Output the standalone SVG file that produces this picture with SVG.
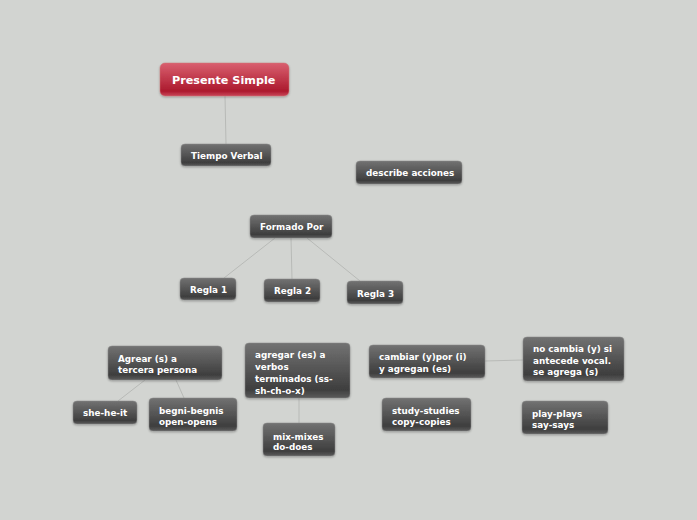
<svg xmlns="http://www.w3.org/2000/svg" width="697" height="520" viewBox="0 0 697 520">
<defs>
<linearGradient id="gd" x1="0" y1="0" x2="0" y2="1">
<stop offset="0" stop-color="#727272"/>
<stop offset="0.85" stop-color="#3e3e3e"/>
<stop offset="1" stop-color="#5c5c5c"/>
</linearGradient>
<linearGradient id="gr" x1="0" y1="0" x2="0" y2="1">
<stop offset="0" stop-color="#d9606f"/>
<stop offset="0.85" stop-color="#ac1a2e"/>
<stop offset="1" stop-color="#c9475a"/>
</linearGradient>
<filter id="sh" x="-10%" y="-10%" width="120%" height="130%">
<feDropShadow dx="0" dy="1" stdDeviation="0.8" flood-color="#000" flood-opacity="0.3"/>
</filter>
</defs>
<style>
.n{fill:url(#gd);stroke:#8a8a8a;stroke-width:0.5;filter:url(#sh)}
.r{fill:url(#gr);stroke:#c77;stroke-width:0.5;filter:url(#sh)}
text{font-family:"DejaVu Sans",Verdana,sans-serif;font-weight:bold;font-size:8.8px;fill:#fff}
.t{font-size:11.2px}
.c{stroke:#b8bab7;stroke-width:1;fill:none}
</style>
<rect width="697" height="520" fill="#d2d4d1"/>
<g id="connectors">
<line class="c" x1="225" y1="96" x2="226" y2="144"/>
<line class="c" x1="275" y1="238" x2="224" y2="278"/>
<line class="c" x1="291" y1="238" x2="292" y2="279"/>
<line class="c" x1="307" y1="238" x2="360" y2="281"/>
<line class="c" x1="145" y1="380" x2="118" y2="401"/>
<line class="c" x1="176" y1="380" x2="184" y2="398"/>
<line class="c" x1="299" y1="398" x2="299" y2="423"/>
<line class="c" x1="485" y1="361" x2="523" y2="360"/>
</g>
<g id="presente-simple"><rect class="r" x="160" y="63" width="129" height="33" rx="5"/><text class="t" x="172" y="84">Presente Simple</text></g>
<g id="tiempo-verbal"><rect class="n" x="181" y="144" width="90" height="22" rx="4"/><text x="191" y="159">Tiempo Verbal</text></g>
<g id="describe-acciones"><rect class="n" x="356" y="161" width="106" height="23" rx="4"/><text x="366" y="176">describe acciones</text></g>
<g id="formado-por"><rect class="n" x="250" y="215" width="82" height="23" rx="4"/><text x="260" y="230">Formado Por</text></g>
<g id="regla-1"><rect class="n" x="180" y="278" width="56" height="22" rx="4"/><text x="190" y="293">Regla 1</text></g>
<g id="regla-2"><rect class="n" x="264" y="279" width="56" height="23" rx="4"/><text x="274" y="294">Regla 2</text></g>
<g id="regla-3"><rect class="n" x="347" y="281" width="56" height="23" rx="4"/><text x="357" y="297">Regla 3</text></g>
<g id="agrear"><rect class="n" x="108" y="346" width="114" height="34" rx="4"/><text x="118" y="362">Agrear (s) a</text><text x="118" y="373">tercera persona</text></g>
<g id="agregar-es"><rect class="n" x="245" y="343" width="105" height="55" rx="4"/><text x="255" y="358">agregar (es) a</text><text x="255" y="370">verbos</text><text x="255" y="382">terminados (ss-</text><text x="255" y="394">sh-ch-o-x)</text></g>
<g id="cambiar"><rect class="n" x="369" y="345" width="116" height="33" rx="4"/><text x="379" y="360">cambiar (y)por (i)</text><text x="379" y="372">y agregan (es)</text></g>
<g id="no-cambia"><rect class="n" x="523" y="337" width="101" height="44" rx="4"/><text x="533" y="352">no cambia (y) si</text><text x="533" y="364">antecede vocal.</text><text x="533" y="375">se agrega (s)</text></g>
<g id="she-he-it"><rect class="n" x="73" y="401" width="64" height="23" rx="4"/><text x="83" y="416">she-he-it</text></g>
<g id="begni"><rect class="n" x="149" y="398" width="88" height="33" rx="4"/><text x="159" y="414">begni-begnis</text><text x="159" y="425">open-opens</text></g>
<g id="mix"><rect class="n" x="263" y="423" width="72" height="33" rx="4"/><text x="273" y="440">mix-mixes</text><text x="273" y="450">do-does</text></g>
<g id="study"><rect class="n" x="382" y="398" width="89" height="33" rx="4"/><text x="392" y="414">study-studies</text><text x="392" y="425">copy-copies</text></g>
<g id="play"><rect class="n" x="522" y="401" width="86" height="33" rx="4"/><text x="532" y="417">play-plays</text><text x="532" y="428">say-says</text></g>
</svg>
